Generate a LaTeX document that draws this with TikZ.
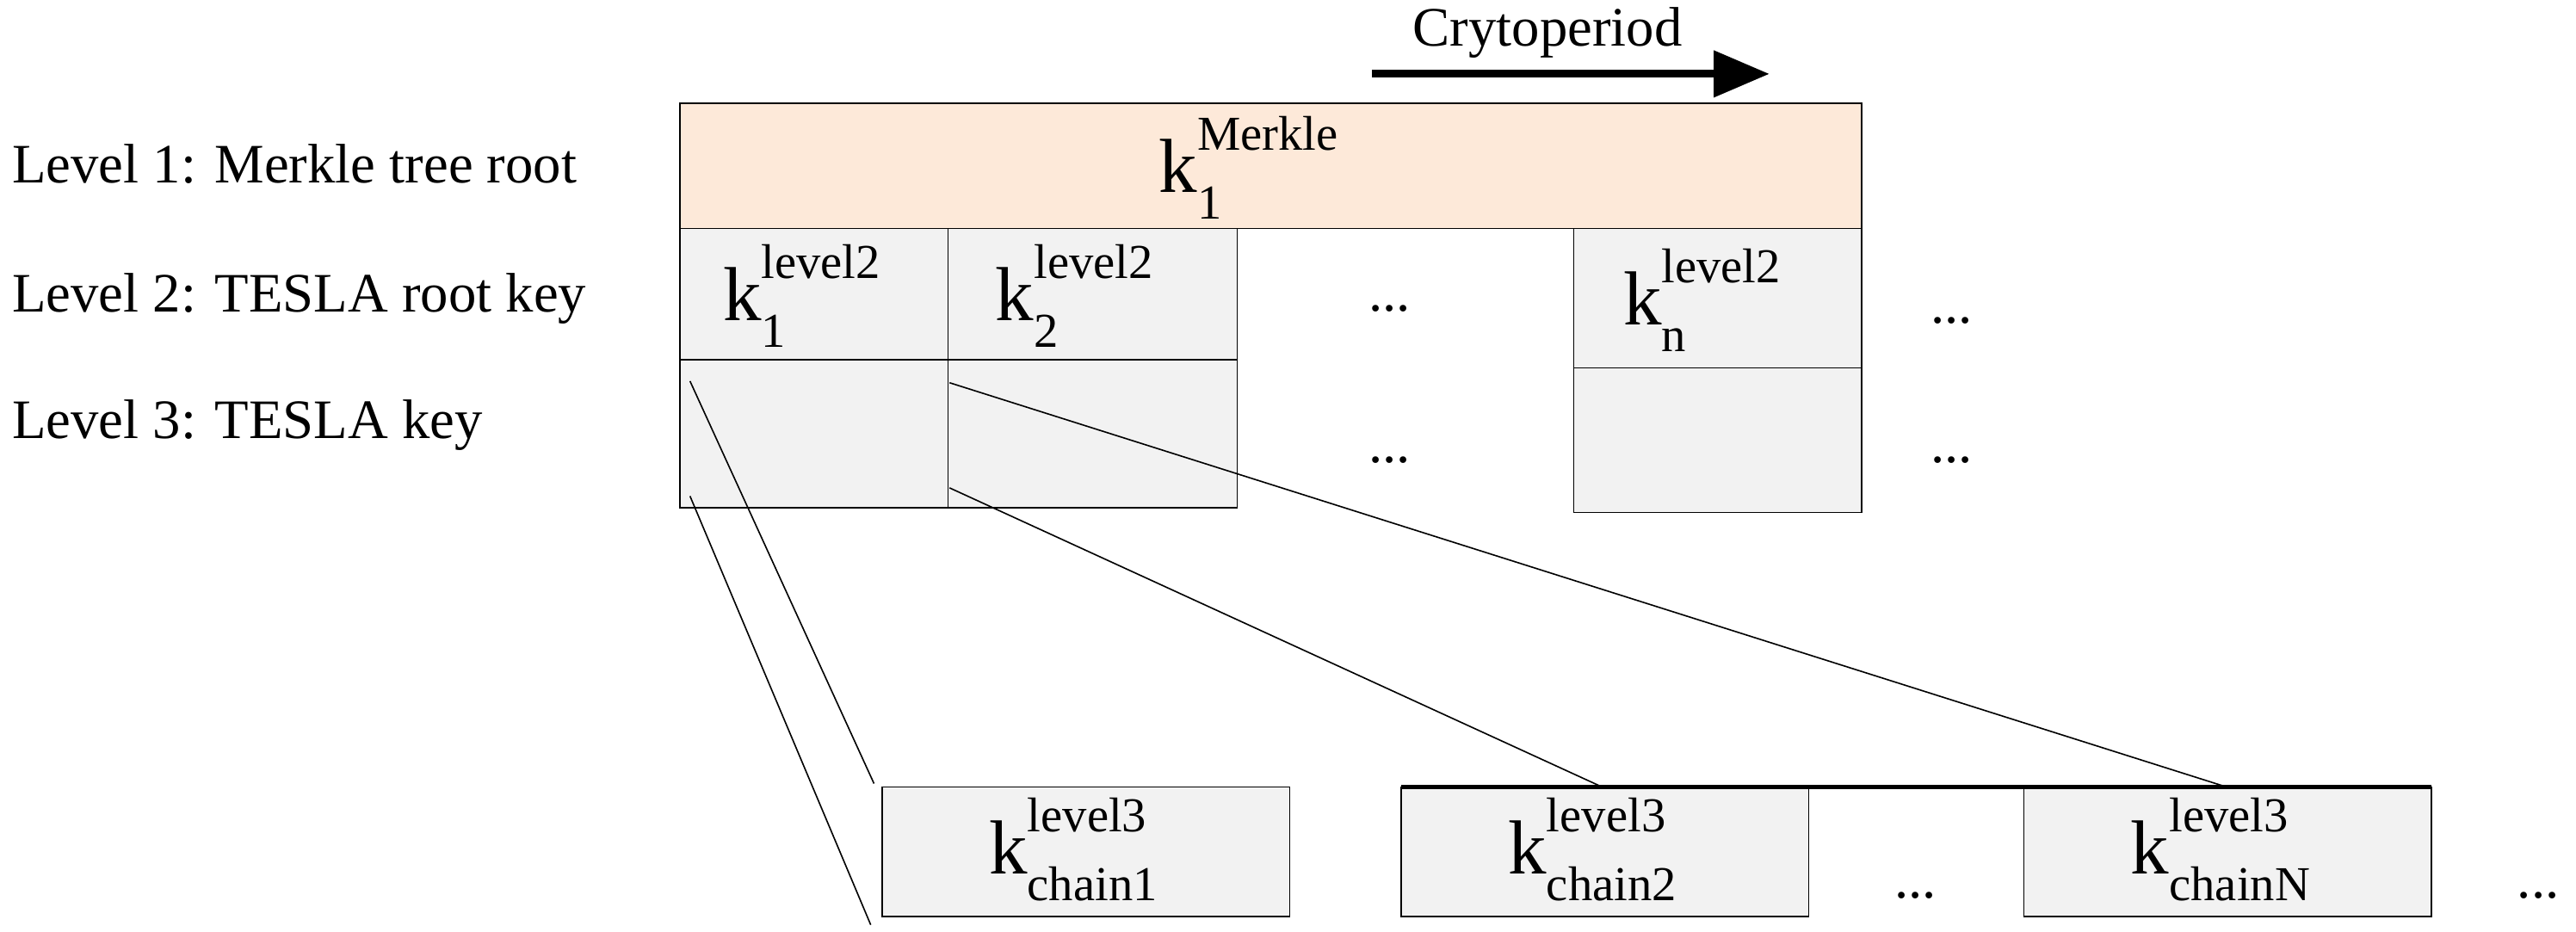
\documentclass[tikz,border=0pt]{standalone}
\usepackage{fontspec}
\setmainfont{Liberation Serif}
\usetikzlibrary{arrows.meta}
\newcommand{\keyk}[2]{k\rlap{\raisebox{-0.35em}{\fontsize{14}{14}\selectfont #1}}\raisebox{0.55em}{\fontsize{14}{14}\selectfont #2}}
\begin{document}
\begin{tikzpicture}[x=0.01658cm,y=-0.01658cm,
    lvl/.style={anchor=west,font=\fontsize{16}{16}\selectfont},
    key/.style={font=\fontsize{22}{22}\selectfont},
    dots/.style={font=\fontsize{16}{16}\selectfont},
    cell/.style={draw,fill=gray!10}]
    \useasboundingbox (0,0) rectangle (1568,567);

    % level labels
    \node[lvl] (l1) at (0,100) {Level 1: Merkle tree root};
    \node[lvl] (l2) at (0,182) {Level 2: TESLA root key};
    \node[lvl] (l3) at (0,259) {Level 3: TESLA key};

    % cryptoperiod arrow
    \coordinate (a0) at (835,45);
    \coordinate (a1) at (1077,45);
    \draw[line width=2.2pt,-{Triangle[length=16pt,width=13pt]}] (a0) -- (a1);
    \node[font=\fontsize{16}{16}\selectfont] (cp) at (942,20) {Crytoperiod};

    % level 1
    \draw[fill={rgb,255:red,253;green,233;blue,217}] (414,63) rectangle (1133,139);
    \node[key] (merkle) at (760,102) {\keyk{1}{Merkle}};

    % level 2 and 3
    \draw[cell] (414,139) rectangle (577,219);
    \draw[cell] (577,139) rectangle (753,219);
    \draw[cell] (958,139) rectangle (1133,224);
    \draw[cell] (414,219) rectangle (577,309);
    \draw[cell] (577,219) rectangle (753,309);
    \draw[cell] (958,224) rectangle (1133,312);
    \node[key] (k1) at (488,180) {\keyk{1}{level2}};
    \node[key] (k2) at (654,180) {\keyk{2}{level2}};
    \node[key] (kn) at (1036,183) {\keyk{n}{level2}};
    \node[dots] (d1) at (846,188) {...};
    \node[dots] (d2) at (846,280) {...};
    \node[dots] (d3) at (1188,195) {...};
    \node[dots] (d4) at (1188,280) {...};

    % chains
    \draw[cell] (537,479) rectangle (785,558);
    \draw[cell] (853,479) rectangle (1101,558);
    \draw[cell] (1232,479) rectangle (1480,558);
    \draw[line width=1.2pt] (853,479) -- (1480,479);
    \node[key] (c1) at (650,517) {\keyk{chain1}{level3}};
    \node[key] (c2) at (966,517) {\keyk{chain2}{level3}};
    \node[key] (cn) at (1345,517) {\keyk{chainN}{level3}};
    \node[dots] (d5) at (1166,545) {...};
    \node[dots] (d6) at (1545,545) {...};

    % expansion lines
    \coordinate (e1) at (420,232);
    \coordinate (e2) at (420,302);
    \coordinate (e3) at (578,233);
    \coordinate (e4) at (578,297);
    \coordinate (f1) at (532,477);
    \coordinate (f2) at (530,563);
    \coordinate (f3) at (1355,479);
    \coordinate (f4) at (975,479);
    \draw (e1) -- (f1);
    \draw (e2) -- (f2);
    \draw (e3) -- (f3);
    \draw (e4) -- (f4);
\end{tikzpicture}
\end{document}
